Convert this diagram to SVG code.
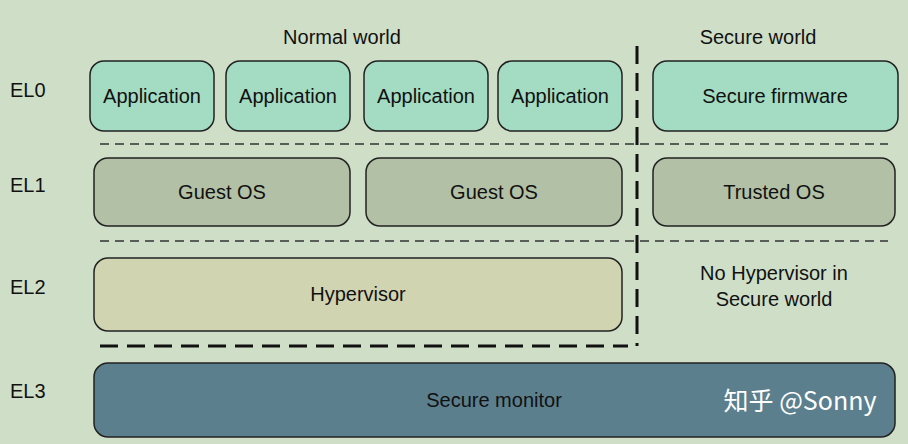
<svg xmlns="http://www.w3.org/2000/svg" width="908" height="444" viewBox="0 0 908 444">
<style>
text{font-family:"Liberation Sans",Arial,sans-serif;font-size:20px;fill:#111;text-anchor:middle}
.l{text-anchor:start}
.b{stroke:#222;stroke-width:1.5}
.app{fill:#a3dcc3}.os{fill:#b2c0a6}.hv{fill:#d1d4b1}.mon{fill:#5c7f8e}
.thin{stroke:#333;stroke-width:1.5;stroke-dasharray:9 6;fill:none}
.thick{stroke:#111;stroke-width:3;stroke-dasharray:18 9;fill:none}
</style>
<rect width="908" height="444" fill="#cfdfc7"/>
<text x="342" y="44">Normal world</text>
<text x="758" y="44">Secure world</text>
<text class="l" x="10" y="97">EL0</text>
<text class="l" x="10" y="192">EL1</text>
<text class="l" x="10" y="294">EL2</text>
<text class="l" x="10" y="398">EL3</text>
<g id="connectors">
<line class="thin" x1="100" y1="144" x2="888" y2="144"/>
<line class="thin" x1="100" y1="241" x2="888" y2="241"/>
<line class="thick" x1="637" y1="46" x2="637" y2="346"/>
<line class="thick" x1="100" y1="346" x2="628" y2="346"/>
</g>
<g id="app1"><rect class="b app" x="90" y="61" width="124" height="70" rx="14"/><text x="152" y="103">Application</text></g>
<g id="app2"><rect class="b app" x="226" y="61" width="124" height="70" rx="14"/><text x="288" y="103">Application</text></g>
<g id="app3"><rect class="b app" x="364" y="61" width="124" height="70" rx="14"/><text x="426" y="103">Application</text></g>
<g id="app4"><rect class="b app" x="498" y="61" width="124" height="70" rx="14"/><text x="560" y="103">Application</text></g>
<g id="sfw"><rect class="b app" x="653" y="61" width="245" height="70" rx="14"/><text x="775" y="103">Secure firmware</text></g>
<g id="gos1"><rect class="b os" x="94" y="158" width="256" height="68" rx="14"/><text x="222" y="199">Guest OS</text></g>
<g id="gos2"><rect class="b os" x="366" y="158" width="256" height="68" rx="14"/><text x="494" y="199">Guest OS</text></g>
<g id="tos"><rect class="b os" x="653" y="158" width="242" height="68" rx="14"/><text x="774" y="199">Trusted OS</text></g>
<g id="hyp"><rect class="b hv" x="94" y="258" width="528" height="73" rx="14"/><text x="358" y="301">Hypervisor</text></g>
<g id="nohyp"><text x="774" y="280">No Hypervisor in</text><text x="774" y="306">Secure world</text></g>
<g id="mon"><rect class="b mon" x="94" y="363" width="801" height="74" rx="14"/><text x="494" y="407">Secure monitor</text></g>
<text x="800" y="410" style="fill:#fff;font-size:25px;font-family:'Noto Sans CJK SC','Liberation Sans',sans-serif">知乎 @Sonny</text>
</svg>
